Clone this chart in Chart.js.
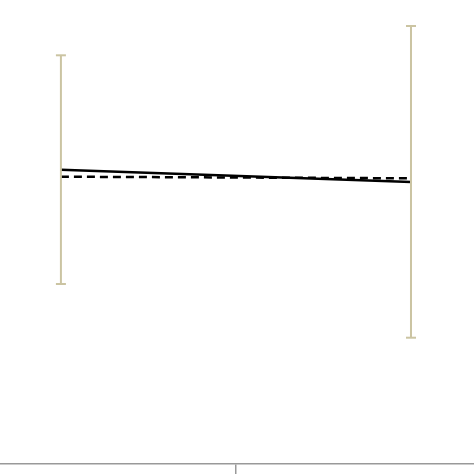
<!DOCTYPE html>
<html><head><meta charset="utf-8">
<script src="https://cdn.jsdelivr.net/npm/chart.js@4"></script>
<style>html,body{margin:0;padding:0;background:#fff;}canvas{display:block;}</style>
</head><body>
<canvas id="c" width="474" height="474"></canvas>
<script>
const groups = [0, 1];
const solidValues = [294.3, 282.0];
const dashedValues = [287.3, 285.7];
const errLow = [180.0, 126.3];
const errHigh = [408.7, 438.0];
const xTicks = [0.5];

const errColor = '#cbc4a2';
const datasets = [];
groups.forEach((g, i) => {
  datasets.push({
    data: [{x: g, y: errLow[i]}, {x: g, y: errHigh[i]}],
    borderColor: errColor, borderWidth: 2,
    pointStyle: 'line', pointRadius: 5, pointBorderColor: errColor, pointBorderWidth: 2,
    pointBackgroundColor: errColor
  });
});
datasets.push({
  data: groups.map((g, i) => ({x: g, y: solidValues[i]})),
  borderColor: '#000', borderWidth: 2.5, pointRadius: 0
});
datasets.push({
  data: groups.map((g, i) => ({x: g, y: dashedValues[i]})),
  borderColor: '#000', borderWidth: 2.5, borderDash: [8, 5], pointRadius: 0
});

new Chart(document.getElementById('c'), {
  type: 'line',
  data: { datasets },
  options: {
    responsive: false, animation: false, devicePixelRatio: 1,
    clip: false,
    layout: { padding: 0, autoPadding: false },
    plugins: { legend: { display: false }, tooltip: { enabled: false } },
    elements: { line: { tension: 0 } },
    scales: {
      x: {
        type: 'linear', min: -0.174, max: 1.18,
        afterBuildTicks: (s) => { s.ticks = xTicks.map(v => ({value: v})); },
        grid: { drawOnChartArea: false, drawTicks: true, tickLength: 10, color: '#999', lineWidth: 1.5 },
        border: { display: true, color: '#999', width: 1.5 },
        ticks: { display: false }
      },
      y: { type: 'linear', min: 0, max: 464, display: false }
    }
  }
});
</script>
</body></html>
